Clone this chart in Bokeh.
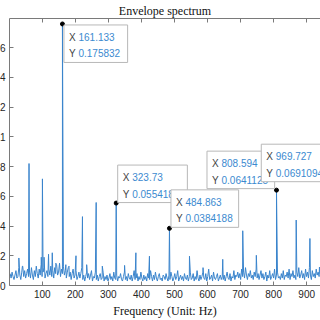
from bokeh.plotting import figure
from bokeh.models import Range1d, FixedTicker, LinearAxis, Label, ColumnDataSource
from bokeh.embed import file_html
from bokeh.resources import INLINE

# Envelope spectrum: broadband floor sampled every 6 FFT bins (df = 1000/2048 Hz)
floor_step_hz = 6 * 1000 / 2048
floor_amp = [
    0.008, 0.005, 0.009, 0.006, 0.004, 0.007, 0.010, 0.005, 0.006, 0.012, 0.007, 0.004, 0.009, 0.013, 0.006, 0.010, 0.005, 0.008, 0.011, 0.006,
    0.009, 0.005, 0.012, 0.007, 0.004, 0.010, 0.006, 0.013, 0.008, 0.005, 0.011, 0.007, 0.014, 0.006, 0.009, 0.012, 0.005, 0.008, 0.010, 0.006,
    0.011, 0.007, 0.013, 0.006, 0.010, 0.005, 0.012, 0.008, 0.014, 0.007, 0.009, 0.015, 0.006, 0.011, 0.008, 0.013, 0.007, 0.010, 0.005, 0.009,
    0.012, 0.006, 0.009, 0.004, 0.008, 0.011, 0.005, 0.007, 0.010, 0.004, 0.006, 0.009, 0.005, 0.008, 0.012, 0.004, 0.007, 0.003, 0.006, 0.009,
    0.005, 0.008, 0.004, 0.007, 0.010, 0.003, 0.006, 0.005, 0.009, 0.004, 0.007, 0.003, 0.006, 0.008, 0.004, 0.005, 0.009, 0.003, 0.006, 0.004,
    0.007, 0.003, 0.005, 0.008, 0.004, 0.006, 0.003, 0.009, 0.005, 0.004, 0.007, 0.003, 0.006, 0.005, 0.008, 0.004, 0.003, 0.006, 0.009, 0.004,
    0.006, 0.003, 0.008, 0.005, 0.004, 0.007, 0.003, 0.006, 0.010, 0.004, 0.005, 0.008, 0.003, 0.006, 0.004, 0.009, 0.005, 0.003, 0.007, 0.004,
    0.006, 0.003, 0.008, 0.005, 0.004, 0.010, 0.006, 0.003, 0.007, 0.004, 0.009, 0.005, 0.003, 0.006, 0.008, 0.004, 0.005, 0.003, 0.007, 0.006,
    0.004, 0.008, 0.005, 0.003, 0.007, 0.004, 0.009, 0.006, 0.003, 0.005, 0.008, 0.004, 0.006, 0.010, 0.003, 0.005, 0.007, 0.004, 0.006, 0.003,
    0.008, 0.005, 0.004, 0.007, 0.003, 0.006, 0.009, 0.004, 0.005, 0.008, 0.003, 0.006, 0.004, 0.010, 0.005, 0.003, 0.007, 0.004, 0.006, 0.009,
    0.005, 0.004, 0.008, 0.003, 0.006, 0.011, 0.004, 0.005, 0.007, 0.003, 0.009, 0.005, 0.004, 0.006, 0.008, 0.003, 0.005, 0.007, 0.004, 0.006,
    0.004, 0.007, 0.003, 0.006, 0.009, 0.005, 0.004, 0.008, 0.003, 0.006, 0.005, 0.010, 0.004, 0.007, 0.006, 0.009, 0.005, 0.008, 0.004, 0.011,
    0.006, 0.009, 0.005, 0.012, 0.007, 0.004, 0.008, 0.006, 0.010, 0.005, 0.007, 0.004, 0.009, 0.006, 0.011, 0.005, 0.008, 0.004, 0.007, 0.010,
    0.005, 0.008, 0.004, 0.006, 0.009, 0.003, 0.007, 0.005, 0.010, 0.004, 0.006, 0.008, 0.005, 0.011, 0.004, 0.007, 0.009, 0.005, 0.006, 0.004,
    0.008, 0.005, 0.010, 0.004, 0.007, 0.006, 0.009, 0.005, 0.011, 0.004, 0.008, 0.006, 0.010, 0.005, 0.007, 0.004, 0.009, 0.006, 0.012, 0.005,
    0.007, 0.010, 0.005, 0.008, 0.004, 0.011, 0.006, 0.009, 0.005, 0.012, 0.007, 0.004, 0.010, 0.006, 0.008, 0.005, 0.011, 0.007, 0.009, 0.006,
    0.008,
]

# Discrete spectral lines (Hz, amplitude)
peak_freq = [29.3, 40.0, 60.06, 97.2, 100.6, 105.5, 119.1, 130.4, 141.1, 161.133, 171.4, 181.0, 202.1,
             221.7, 234.4, 263.2, 281.7, 323.73, 349.1, 383.3, 424.3, 484.863, 545.4, 586.4, 646.0,
             706.5, 747.6, 808.594, 868.2, 909.7, 938.5, 969.727]
peak_amp = [0.0185, 0.013, 0.082, 0.019, 0.0717, 0.019, 0.021, 0.022, 0.015, 0.175832, 0.014, 0.013, 0.020,
            0.0463, 0.014, 0.0558, 0.013, 0.0554188, 0.0135, 0.022, 0.0197, 0.0384188, 0.0197, 0.012, 0.0176,
            0.0368, 0.0203, 0.0641125, 0.044, 0.0316, 0.0124, 0.0691094]

# Data tips
tip_freq = [161.133, 323.73, 484.863, 808.594, 969.727]
tip_amp = [0.175832, 0.0554188, 0.0384188, 0.0641125, 0.0691094]
tip_x_text = ["161.133", "323.73", "484.863", "808.594", "969.727"]
tip_y_text = ["0.175832", "0.0554188", "0.0384188", "0.0641125", "0.0691094"]

x_ticks = [100, 200, 300, 400, 500, 600, 700, 800, 900, 1000]
y_ticks = [0, 0.02, 0.04, 0.06, 0.08, 0.1, 0.12, 0.14, 0.16]
y_tick_labels = ["0", "0.02", "0.04", "0.06", "0.08", "0.1", "0.12", "0.14", "0.16"]

# merge floor samples and spectral lines into one frequency-ordered trace
pts = [((k + 1) * floor_step_hz, a) for k, a in enumerate(floor_amp)]
pts += list(zip(peak_freq, peak_amp))
pts.sort()
spec = ColumnDataSource(dict(f=[p[0] for p in pts], a=[p[1] for p in pts]))

SANS = "Liberation Sans"
SERIF = "Liberation Serif"
AX_GREY = "#7a7a7a"

p = figure(width=341, height=320, x_range=Range1d(1, 941.7), y_range=Range1d(0, 0.1795),
           output_backend="svg", toolbar_location=None, title="Envelope spectrum",
           min_border_left=30, min_border_right=0, min_border_top=0, min_border_bottom=0)
p.styles = {"margin-left": "-21px"}
p.outline_line_color = None
p.grid.visible = False
p.background_fill_color = "white"
p.border_fill_color = "white"

p.title.text_font = SERIF
p.title.text_font_size = "12px"
p.title.text_font_style = "normal"
p.title.align = "center"
p.title.text_color = "#111111"
p.title.standoff = 2
p.title.offset = 0

for ax in (p.xaxis[0], p.yaxis[0]):
    ax.axis_line_color = AX_GREY
    ax.major_tick_line_color = AX_GREY
    ax.major_tick_in = 4
    ax.major_tick_out = 0
    ax.minor_tick_line_color = None
    ax.major_label_text_font = SANS
    ax.major_label_text_font_size = "10px"
    ax.major_label_text_color = "#262626"
    ax.major_label_standoff = 4

p.xaxis.ticker = FixedTicker(ticks=x_ticks)
p.xaxis.axis_label = "Frequency (Unit: Hz)"
p.xaxis.axis_label_text_font = SERIF
p.xaxis.axis_label_text_font_size = "12px"
p.xaxis.axis_label_text_font_style = "normal"
p.xaxis.axis_label_text_color = "#111111"
p.xaxis.axis_label_standoff = 3

p.yaxis.ticker = FixedTicker(ticks=y_ticks)
p.yaxis.major_label_overrides = dict(zip(y_ticks, y_tick_labels))

# box-style top border carrying inward ticks only
top = LinearAxis(ticker=FixedTicker(ticks=x_ticks), axis_line_color=AX_GREY,
                 major_tick_line_color=AX_GREY, major_tick_in=4, major_tick_out=0,
                 minor_tick_line_color=None, major_label_standoff=0,
                 major_label_text_font_size="1px",
                 major_label_overrides={t: "" for t in x_ticks})
p.add_layout(top, "above")

p.line("f", "a", source=spec, line_color="#3a84cc", line_width=1)
p.scatter(tip_freq, tip_amp, size=4, color="black")

# data-tip boxes: (offset to box left edge, vertical offset, vertical anchor, box width)
tip_layout = [
    (1.5, -1.0, "top", 64),
    (1.5, 0.5, "bottom", 70),
    (1.5, 1.0, "bottom", 68),
    (-69.5, 1.5, "bottom", 68),
    (-68.5, 1.0, "bottom", 67),
]
for fx, fy, xs, ys, (dx, dy, va, w) in zip(tip_freq, tip_amp, tip_x_text, tip_y_text, tip_layout):
    box = Label(x=fx, y=fy, x_offset=dx, y_offset=dy, text="X\nY", anchor=f"{va}_left",
                padding=dict(left=5, right=w - 12, top=7, bottom=3),
                background_fill_color="white", background_fill_alpha=1.0,
                border_line_color="#b8b8b8", border_line_width=1,
                text_color="#444444", text_font=SANS, text_font_size="10px", text_line_height=1.5)
    val = Label(x=fx, y=fy, x_offset=dx + 14.5, y_offset=dy, text=f"{xs}\n{ys}", anchor=f"{va}_left",
                padding=dict(left=0, right=0, top=7, bottom=3),
                text_color="#3b8ad0", text_font=SANS, text_font_size="10px", text_line_height=1.5)
    p.add_layout(box)
    p.add_layout(val)

open("out.html", "w").write(file_html(p, INLINE))
